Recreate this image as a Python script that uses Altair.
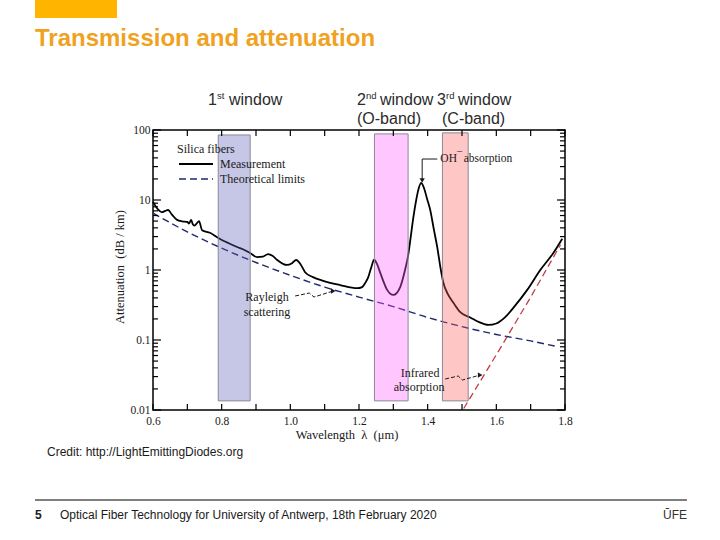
import altair as alt
import pandas as pd

# ---------------------------------------------------------------
# Attenuation of silica fibre vs wavelength
# ---------------------------------------------------------------

# measured attenuation (dB/km) against wavelength (um)
meas_wl = [0.600, 0.613, 0.626, 0.636, 0.644, 0.655, 0.670, 0.685, 0.700, 0.705,
           0.711, 0.716, 0.720, 0.727, 0.734, 0.743, 0.766, 0.790, 0.819, 0.845,
           0.865, 0.883, 0.903, 0.920, 0.935, 0.948, 0.962, 0.990, 1.005, 1.017,
           1.030, 1.043, 1.066, 1.096, 1.145, 1.195, 1.209, 1.218, 1.227, 1.236,
           1.244, 1.253, 1.262, 1.282, 1.300, 1.320, 1.333, 1.343, 1.350, 1.358,
           1.365, 1.372, 1.381, 1.390, 1.398, 1.408, 1.418, 1.428, 1.437, 1.445,
           1.460, 1.475, 1.495, 1.524, 1.550, 1.577, 1.600, 1.625, 1.650, 1.690,
           1.728, 1.766, 1.792]
meas_att = [9.4, 7.5, 6.7, 7.0, 7.2, 6.2, 5.2, 4.95, 4.85, 4.6,
            5.2, 4.5, 4.3, 4.6, 5.0, 3.7, 3.4, 2.87, 2.43, 2.13,
            1.95, 1.75, 1.53, 1.55, 1.69, 1.6, 1.39, 1.18, 1.25, 1.39,
            1.2, 0.93, 0.79, 0.70, 0.61, 0.55, 0.57, 0.65, 0.79, 1.1,
            1.4, 1.2, 0.91, 0.52, 0.44, 0.57, 0.95, 1.6, 2.8, 5.5,
            9.0, 13.5, 17.5, 14.5, 10.5, 7.0, 3.8, 2.1, 1.1, 0.68,
            0.44, 0.34, 0.25, 0.21, 0.18, 0.164, 0.172, 0.21, 0.29, 0.52,
            1.0, 1.75, 2.8]

# theoretical limit: Rayleigh scattering
ray_wl = [0.600, 0.700, 0.800, 0.900, 1.000, 1.100, 1.200, 1.300, 1.400, 1.500,
          1.600, 1.700, 1.770]
ray_att = [6.5, 3.5, 2.05, 1.28, 0.84, 0.57, 0.41, 0.30, 0.21, 0.155,
           0.12, 0.097, 0.082]

# theoretical limit: infrared absorption
ir_wl = [1.505, 1.612, 1.700, 1.787]
ir_att = [0.0105, 0.077, 0.41, 2.3]

# transmission windows
win_name = ["1st", "2nd", "3rd"]
win_from = [0.790, 1.245, 1.443]
win_to = [0.883, 1.343, 1.518]
win_bottom = [0.0135, 0.0135, 0.0135]
win_top = [85, 88, 91]

# axis ticks
x_labels = [0.6, 0.8, 1.0, 1.2, 1.4, 1.6, 1.8]
x_ticks = [0.6, 0.7, 0.8, 0.9, 1.0, 1.1, 1.2, 1.3, 1.4, 1.5, 1.6, 1.7, 1.8]
y_major = [0.01, 0.1, 1, 10, 100]
y_minor = [m * d for d in (0.01, 0.1, 1, 10) for m in range(2, 10)]

# annotation anchors (wavelength, attenuation)
oh_path_wl = [1.428, 1.384, 1.384]
oh_path_att = [38.5, 38.5, 20.0]
ray_arrow_wl = [1.014, 1.055, 1.069, 1.125]
ray_arrow_att = [0.425, 0.469, 0.411, 0.501]
ir_arrow_wl = [1.451, 1.489, 1.501, 1.553]
ir_arrow_att = [0.0277, 0.0306, 0.0268, 0.0316]

# ---------------------------------------------------------------
W, H = 412, 280
OX, OY = 153, 130          # plot origin on the page
SERIF = "Liberation Serif"
SANS = "Liberation Sans"
INK = "#1a1a1a"

xs = alt.Scale(domain=[0.6, 1.8], nice=False, zero=False)
ys = alt.Scale(type="log", domain=[0.01, 100], nice=False)
x_axis = alt.Axis(values=x_labels, format=".1f", title=None, ticks=False, domain=False,
                  grid=False, labelFont=SERIF, labelFontSize=11.5, labelColor=INK,
                  labelPadding=5, labelFlush=False)
y_axis = alt.Axis(values=y_major, format="~g", title=None, ticks=False, domain=False,
                  grid=False, labelFont=SERIF, labelFontSize=11.5, labelColor=INK,
                  labelPadding=3, labelFlush=False)
X = alt.X("wl:Q", scale=xs, axis=x_axis)
Y = alt.Y("att:Q", scale=ys, axis=y_axis)

one = pd.DataFrame({"k": [0]})


def page_text(text, px, py, size=12, font=SANS, weight="normal", align="left",
              baseline="alphabetic", color=INK, angle=0):
    return alt.Chart(one).mark_text(
        text=text, font=font, fontSize=size, fontWeight=weight, align=align,
        baseline=baseline, color=color, angle=angle
    ).encode(x=alt.value(px - OX), y=alt.value(py - OY))


def data_text(text, wl, att, size=12, align="center"):
    df = pd.DataFrame({"wl": [wl], "att": [att]})
    return alt.Chart(df).mark_text(
        text=text, font=SERIF, fontSize=size, align=align, baseline="middle", color=INK
    ).encode(x=X, y=Y)


def path(wl, att, dash=None, width=1.0, color=INK):
    df = pd.DataFrame({"wl": wl, "att": att, "i": list(range(len(wl)))})
    kw = dict(color=color, strokeWidth=width)
    if dash:
        kw["strokeDash"] = dash
    return alt.Chart(df).mark_line(**kw).encode(x=X, y=Y, order="i:Q")


def head(wl, att, shape):
    df = pd.DataFrame({"wl": [wl], "att": [att]})
    return alt.Chart(df).mark_point(shape=shape, filled=True, size=28, color=INK,
                                    opacity=1).encode(x=X, y=Y)


# curves
meas = alt.Chart(pd.DataFrame({"wl": meas_wl, "att": meas_att})).mark_line(
    color="black", strokeWidth=1.8, interpolate="monotone").encode(x=X, y=Y)
ray = alt.Chart(pd.DataFrame({"wl": ray_wl, "att": ray_att})).mark_line(
    color="#1f2a6b", strokeWidth=1.4, strokeDash=[7, 4], interpolate="monotone"
).encode(x=X, y=Y)
ir = alt.Chart(pd.DataFrame({"wl": ir_wl, "att": ir_att})).mark_line(
    color="#c23b45", strokeWidth=1.3, strokeDash=[7, 4]).encode(x=X, y=Y)

# translucent window bands drawn over the curves
windows = alt.Chart(pd.DataFrame({
    "name": win_name, "wl": win_from, "wl2": win_to, "att": win_bottom, "att2": win_top
})).mark_rect(fillOpacity=0.35, stroke="#8a8898", strokeWidth=1).encode(
    x=X, x2="wl2", y=Y, y2="att2",
    fill=alt.Fill("name:N", scale=alt.Scale(domain=win_name,
                                             range=["#5c5cb8", "#ff5cff", "#ff5c5c"]),
                  legend=None)
)

# inward ticks on all four sides
xt = pd.DataFrame({"wl": x_ticks})
ymaj = pd.DataFrame({"att": y_major})
ymin = pd.DataFrame({"att": y_minor})
tick_kw = dict(color="black", strokeWidth=1.2)
ticks = [
    alt.Chart(xt).mark_rule(**tick_kw).encode(x=X, y=alt.value(H), y2=alt.value(H - 6)),
    alt.Chart(xt).mark_rule(**tick_kw).encode(x=X, y=alt.value(0), y2=alt.value(6)),
    alt.Chart(ymaj).mark_rule(**tick_kw).encode(y=Y, x=alt.value(0), x2=alt.value(8)),
    alt.Chart(ymaj).mark_rule(**tick_kw).encode(y=Y, x=alt.value(W), x2=alt.value(W - 8)),
    alt.Chart(ymin).mark_rule(**tick_kw).encode(y=Y, x=alt.value(0), x2=alt.value(5)),
    alt.Chart(ymin).mark_rule(**tick_kw).encode(y=Y, x=alt.value(W), x2=alt.value(W - 5)),
]

# legend inside the plot
legend = [
    page_text("Silica fibers", 177, 153, size=12, font=SERIF),
    alt.Chart(one).mark_rule(color="black", strokeWidth=1.8).encode(
        x=alt.value(179 - OX), x2=alt.value(213 - OX), y=alt.value(164 - OY)),
    alt.Chart(one).mark_rule(color="#1f2a6b", strokeWidth=1.4, strokeDash=[7, 4]).encode(
        x=alt.value(179 - OX), x2=alt.value(213 - OX), y=alt.value(179 - OY)),
    page_text("Measurement", 220, 168, size=12, font=SERIF),
    page_text("Theoretical limits", 220, 183, size=12, font=SERIF),
]

# annotations
notes = [
    path(oh_path_wl, oh_path_att, width=1.0),
    head(1.384, 19.0, "triangle-down"),
    data_text("OH", 1.437, 38.5, size=11.5, align="left"),
    data_text("\u2212", 1.492, 48.5, size=11),
    data_text("absorption", 1.505, 38.5, size=11.5, align="left"),
    data_text("Rayleigh", 0.932, 0.41),
    data_text("scattering", 0.932, 0.251),
    path(ray_arrow_wl, ray_arrow_att, dash=[4, 2], width=1.0),
    head(1.125, 0.501, "triangle-right"),
    data_text("Infrared", 1.378, 0.0338),
    data_text("absorption", 1.375, 0.0213),
    path(ir_arrow_wl, ir_arrow_att, dash=[4, 2], width=1.0),
    head(1.553, 0.0316, "triangle-right"),
]

# axis titles
titles = [
    page_text("Attenuation\u00a0\u00a0(dB / km)", 120, 267, size=12.5, font=SERIF,
              align="center", baseline="middle", angle=270),
    page_text("Wavelength\u00a0\u00a0\u03bb\u00a0\u00a0(\u03bcm)", 347, 439, size=12.5,
              font=SERIF, align="center"),
]

# slide header, window labels and footer
WIN_C = "#2b2b2b"
slide = [
    alt.Chart(one).mark_rect(color="#ffb400").encode(
        x=alt.value(35 - OX), x2=alt.value(117 - OX), y=alt.value(0 - OY), y2=alt.value(18 - OY)),
    page_text("Transmission and attenuation", 35, 46, size=24, weight="bold", color="#f0a21e"),
    page_text("1", 208, 105, size=16, color=WIN_C),
    page_text("st", 217, 99, size=9.5, color=WIN_C),
    page_text("window", 229, 105, size=16, color=WIN_C),
    page_text("2", 357, 105, size=16, color=WIN_C),
    page_text("nd", 366, 99, size=9.5, color=WIN_C),
    page_text("window", 380, 105, size=16, color=WIN_C),
    page_text("3", 437, 105, size=16, color=WIN_C),
    page_text("rd", 446, 99, size=9.5, color=WIN_C),
    page_text("window", 458, 105, size=16, color=WIN_C),
    page_text("(O-band)", 357, 124, size=16, color=WIN_C),
    page_text("(C-band)", 442, 124, size=16, color=WIN_C),
    page_text("Credit: http://LightEmittingDiodes.org", 47, 456, size=12),
    alt.Chart(one).mark_rule(color="black", strokeWidth=1).encode(
        x=alt.value(35 - OX), x2=alt.value(687 - OX), y=alt.value(500 - OY)),
    page_text("5", 35, 519, size=12, weight="bold"),
    page_text("Optical Fiber Technology for University of Antwerp, 18th February 2020",
              60, 519, size=12),
    page_text("\u016aFE", 687, 519, size=12, align="right", color="#333333"),
]

chart = alt.layer(
    meas, ray, ir, windows, *ticks, *legend, *notes, *titles, *slide
).properties(
    width=W, height=H,
    padding={"left": OX, "top": OY, "right": 720 - OX - W, "bottom": 540 - OY - H},
    autosize=alt.AutoSizeParams(type="none"),
    background="white",
).configure_view(stroke="black", strokeWidth=1.5)

chart.save("out.html", embed_options={"renderer": "svg", "actions": False})
